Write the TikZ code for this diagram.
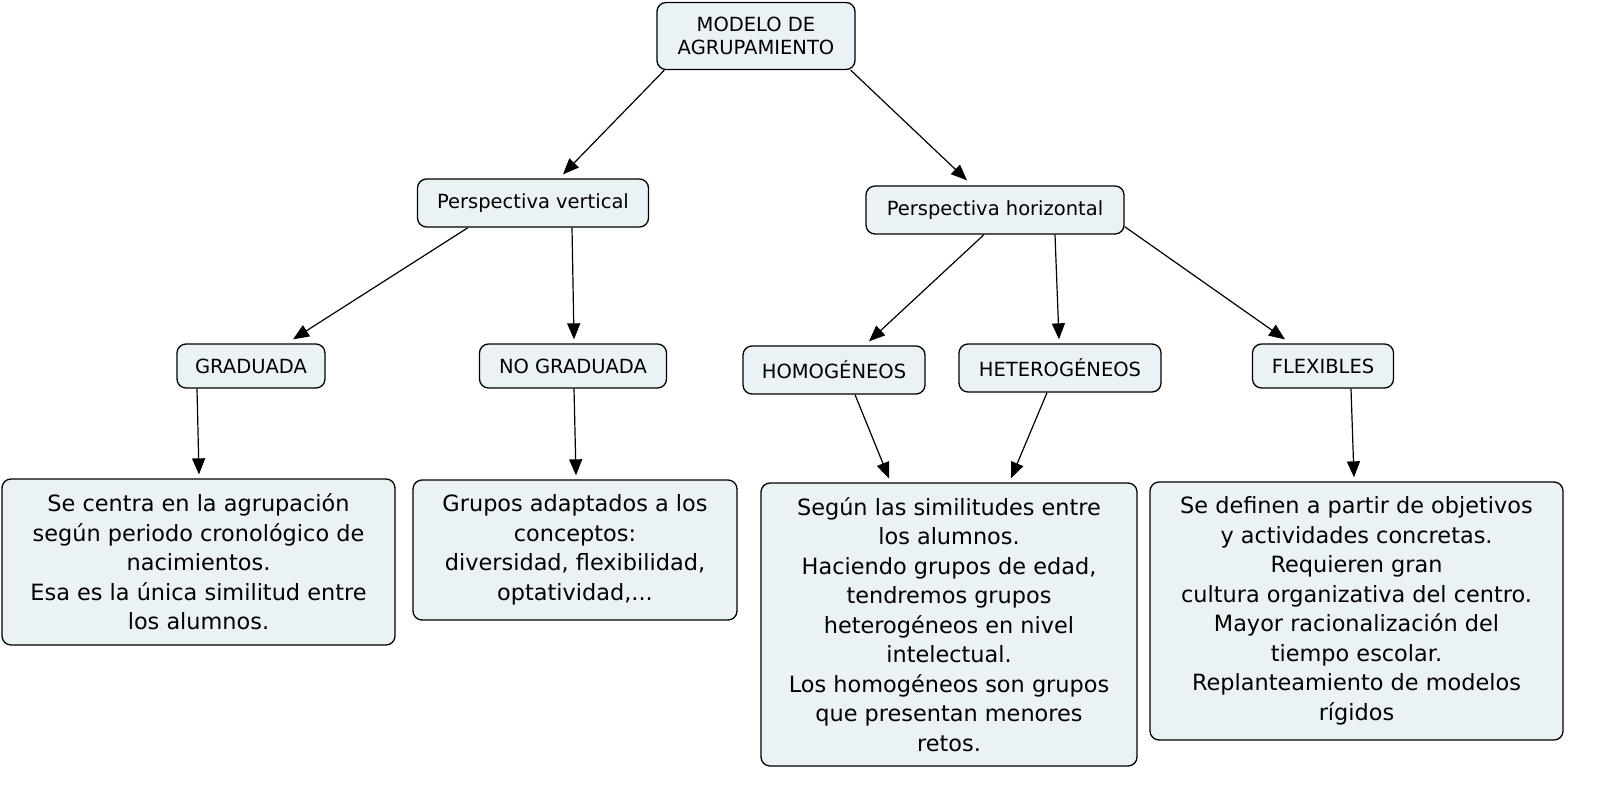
\documentclass[tikz,border=0pt]{standalone}
\usepackage{fontspec}
\setmainfont{DejaVu Sans}
\usetikzlibrary{arrows.meta,calc}
\definecolor{boxfill}{HTML}{EBF2F5}
\tikzset{
 box/.style={draw=black,line width=1.3bp,fill=boxfill,rounded corners=9bp,inner sep=0pt,align=center},
 lab/.style={box,font=\fontsize{19.5bp}{23bp}\selectfont},
 big/.style={box,font=\fontsize{22.4bp}{29.5bp}\selectfont},
 arr/.style={line width=1.2bp,-{Triangle[length=16bp,width=13bp]}}
}
\begin{document}
\begin{tikzpicture}[x=1bp,y=-1bp]
\useasboundingbox (0,0) rectangle (1600,787);
\node[lab,minimum width=198bp,minimum height=67bp] (top) at (756,36) {MODELO DE\\AGRUPAMIENTO};
\node[lab,minimum width=231bp,minimum height=48bp] (pv) at (533,203) {Perspectiva vertical};
\node[lab,minimum width=258bp,minimum height=48bp] (ph) at (995,210) {Perspectiva horizontal};
\node[lab,minimum width=148bp,minimum height=44bp] (gr) at (251,366) {GRADUADA};
\node[lab,minimum width=187bp,minimum height=44bp] (ng) at (573,366) {NO GRADUADA};
\node[lab,minimum width=182bp,minimum height=48bp] (ho) at (834,370) {HOMOGÉNEOS};
\node[lab,minimum width=202bp,minimum height=48bp] (he) at (1060,368) {HETEROGÉNEOS};
\node[lab,minimum width=141bp,minimum height=44bp] (fl) at (1323,366) {FLEXIBLES};
\node[big,minimum width=393bp,minimum height=166bp] (b1) at (198.5,562) {Se centra en la agrupación\\según periodo cronológico de\\nacimientos.\\Esa es la única similitud entre\\los alumnos.};
\node[big,minimum width=324bp,minimum height=140bp] (b2) at (575,550) {Grupos adaptados a los\\conceptos:\\diversidad, flexibilidad,\\optatividad,...};
\node[big,minimum width=376bp,minimum height=283bp] (b3) at (949,624.5) {Según las similitudes entre\\los alumnos.\\Haciendo grupos de edad,\\tendremos grupos\\heterogéneos en nivel\\intelectual.\\Los homogéneos son grupos\\que presentan menores\\retos.};
\node[big,minimum width=413bp,minimum height=258bp] (b4) at (1356.5,611) {Se definen a partir de objetivos\\y actividades concretas.\\Requieren gran\\cultura organizativa del centro.\\Mayor racionalización del\\tiempo escolar.\\Replanteamiento de modelos\\rígidos};
\draw[arr] ($(top.south west)+(8,0)$) -- ($(pv.north)+(30,-4)$);
\draw[arr] ($(top.south east)+(-5,0)$) -- ($(ph.north)+(-28,-5)$);
\draw[arr] ($(pv.south)+(-65,0)$) -- ($(gr.north)+(42,-4)$);
\draw[arr] ($(pv.south)+(39,0)$) -- ($(ng.north)+(1,-4)$);
\draw[arr] ($(ph.south)+(-11,0)$) -- ($(ho.north)+(35,-4)$);
\draw[arr] ($(ph.south)+(60,0)$) -- ($(he.north)+(-1,-4)$);
\draw[arr] ($(ph.south east)+(0,-8)$) -- ($(fl.north)+(-38,-4)$);
\draw[arr] ($(gr.south)+(-54,0)$) -- ($(b1.north)+(0.5,-4)$);
\draw[arr] ($(ng.south)+(1,0)$) -- ($(b2.north)+(1,-4)$);
\draw[arr] ($(ho.south)+(21,0)$) -- ($(b3.north)+(-60,-4)$);
\draw[arr] ($(he.south)+(-13,0)$) -- ($(b3.north)+(62,-4)$);
\draw[arr] ($(fl.south)+(28,0)$) -- ($(b4.north)+(-2.5,-4)$);
\end{tikzpicture}
\end{document}
